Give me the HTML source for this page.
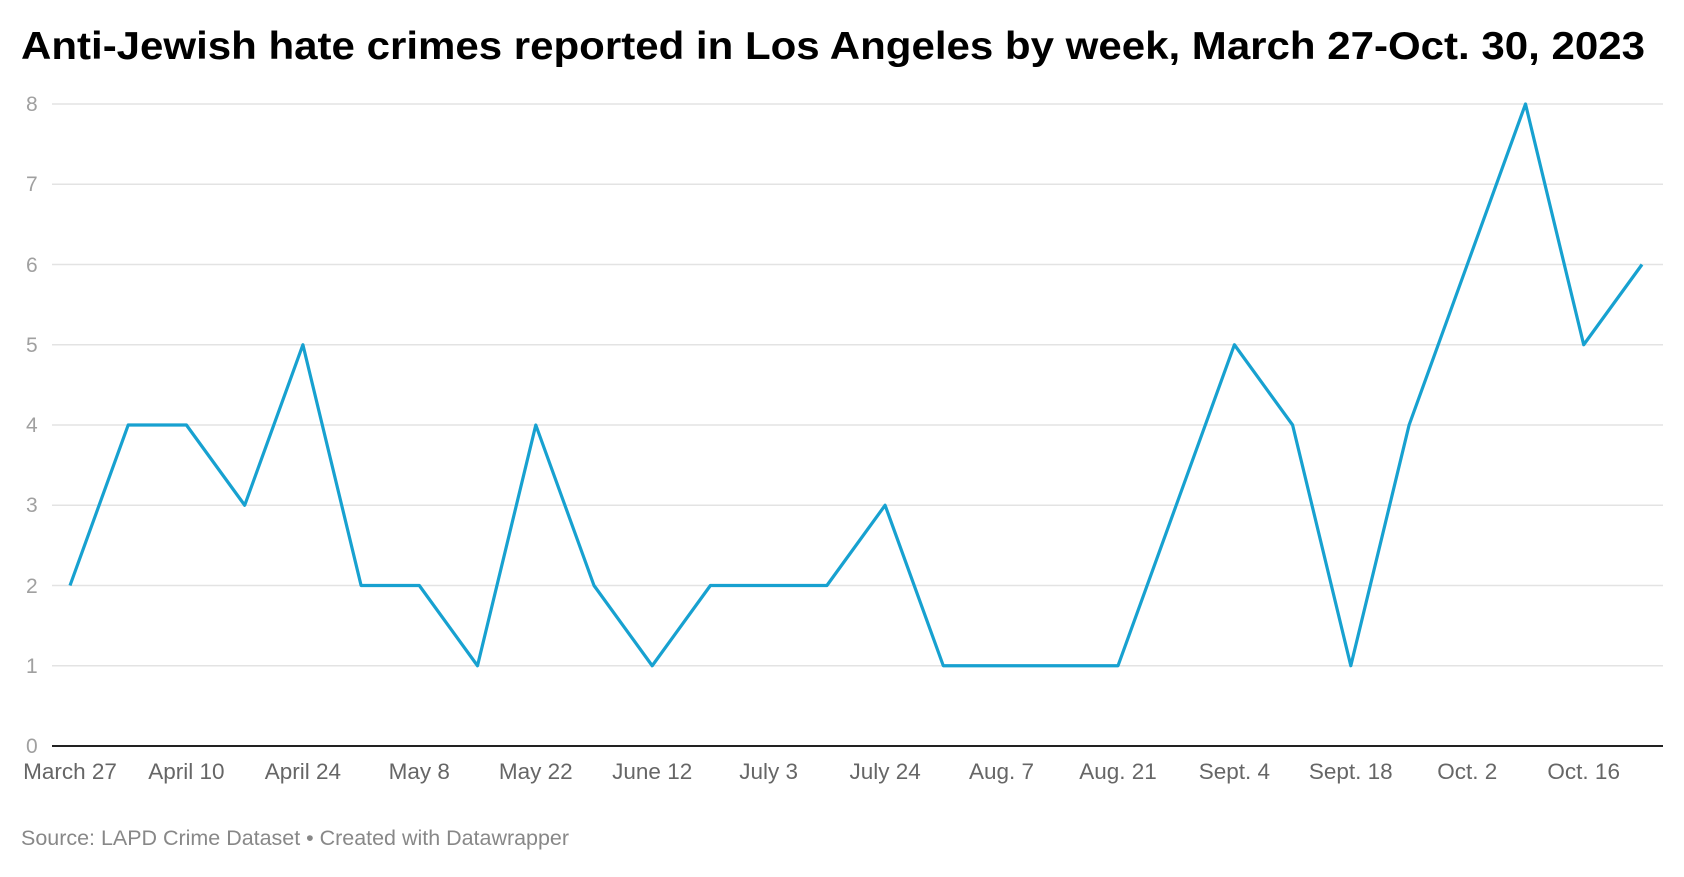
<!DOCTYPE html>
<html><head><meta charset="utf-8"><style>
body{margin:0;background:#fff;width:1684px;height:872px;overflow:hidden;font-family:"Liberation Sans",sans-serif}
</style></head><body>
<svg width="1684" height="872" xmlns="http://www.w3.org/2000/svg" font-family="Liberation Sans, sans-serif">
<text x="21" y="59" font-size="39" font-weight="bold" fill="#000" textLength="1624" lengthAdjust="spacingAndGlyphs">Anti-Jewish hate crimes reported in Los Angeles by week, March 27-Oct. 30, 2023</text>
<g stroke="#e3e3e3" stroke-width="1.5">
<line x1="52" x2="1663" y1="104" y2="104"/><line x1="52" x2="1663" y1="184.25" y2="184.25"/>
<line x1="52" x2="1663" y1="264.5" y2="264.5"/><line x1="52" x2="1663" y1="344.75" y2="344.75"/>
<line x1="52" x2="1663" y1="425" y2="425"/><line x1="52" x2="1663" y1="505.25" y2="505.25"/>
<line x1="52" x2="1663" y1="585.5" y2="585.5"/><line x1="52" x2="1663" y1="665.75" y2="665.75"/>
</g>
<line x1="52" x2="1663" y1="746" y2="746" stroke="#222" stroke-width="2"/>
<g font-size="21" fill="#a0a0a0" text-anchor="start">
<text x="26" y="111">8</text><text x="26" y="191">7</text><text x="26" y="272">6</text><text x="26" y="352">5</text>
<text x="26" y="432">4</text><text x="26" y="512">3</text><text x="26" y="593">2</text><text x="26" y="673">1</text><text x="26" y="753">0</text>
</g>
<polyline fill="none" stroke="#17a1d0" stroke-width="3.2" stroke-linejoin="round" points="70,585.5 128.2,425 186.4,425 244.7,505.25 302.9,344.75 361.1,585.5 419.3,585.5 477.5,665.75 535.8,425 594,585.5 652.2,665.75 710.4,585.5 768.6,585.5 826.9,585.5 885.1,505.25 943.3,665.75 1001.5,665.75 1059.7,665.75 1118,665.75 1176.2,505.25 1234.4,344.75 1292.6,425 1350.8,665.75 1409.1,425 1467.3,264.5 1525.5,104 1583.7,344.75 1642,264.5"/>
<g font-size="22.5" fill="#666" text-anchor="middle">
<text x="70" y="779">March 27</text><text x="186.4" y="779">April 10</text><text x="302.9" y="779">April 24</text>
<text x="419.3" y="779">May 8</text><text x="535.8" y="779">May 22</text><text x="652.2" y="779">June 12</text>
<text x="768.6" y="779">July 3</text><text x="885.1" y="779">July 24</text><text x="1001.5" y="779">Aug. 7</text>
<text x="1118" y="779">Aug. 21</text><text x="1234.4" y="779">Sept. 4</text><text x="1350.8" y="779">Sept. 18</text>
<text x="1467.3" y="779">Oct. 2</text><text x="1583.7" y="779">Oct. 16</text>
</g>
<text x="21" y="845" font-size="21" fill="#888" textLength="548" lengthAdjust="spacingAndGlyphs">Source: LAPD Crime Dataset • Created with Datawrapper</text>
</svg>
</body></html>
